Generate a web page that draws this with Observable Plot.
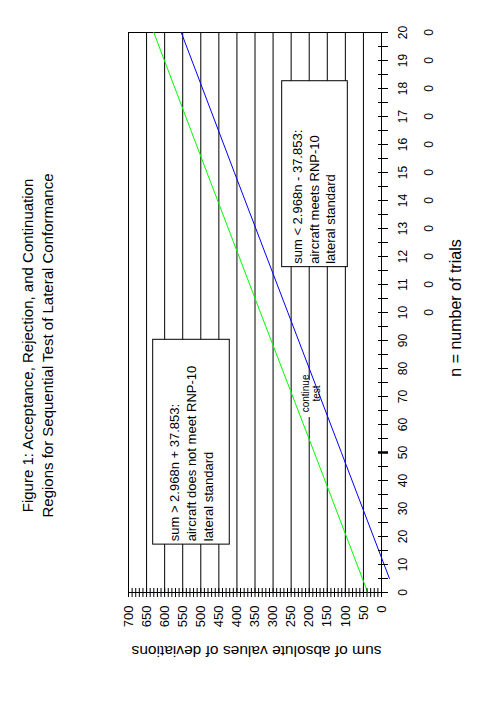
<!DOCTYPE html>
<html>
<head>
<meta charset="utf-8">
<script src="https://cdn.jsdelivr.net/npm/d3@7"></script>
<script src="https://cdn.jsdelivr.net/npm/@observablehq/plot@0.6"></script>
<style>
  body { margin: 0; background: #fff; }
</style>
</head>
<body>
<div id="chart"></div>
<script>
/* ticks */
const sumTicks = [0, 50, 100, 150, 200, 250, 300, 350, 400, 450, 500, 550, 600, 650, 700]
const nTicks = [0, 10, 20, 30, 40, 50, 60, 70, 80, 90, 100, 110, 120, 130, 140, 150, 160, 170, 180, 190, 200]
const sumMinorTicks = d3.range(0, 701, 10)
const nMinorTicks = d3.range(0, 201, 5)

/* boundary lines */
const rejectN = [0, 50, 100, 150, 200]
const rejectSum = [38, 186, 335, 483, 630]
const acceptN = [5, 50, 100, 150, 200]
const acceptSum = [-22, 111, 259, 407, 554]

/* texts */
const title = ['Figure 1: Acceptance, Rejection, and Continuation', 'Regions for Sequential Test of Lateral Conformance']
const rejectText = ['sum > 2.968n + 37.853:', 'aircraft does not meet RNP-10', 'lateral standard']
const acceptText = ['sum < 2.968n - 37.853:', 'aircraft meets RNP-10', 'lateral standard']
const continueText = ['continue', 'test']
const xLabel = 'n = number of trials'
const yLabel = 'sum of absolute values of deviations'

const reject = rejectN.map((n, i) => ({n, sum: rejectSum[i]}))
const accept = acceptN.map((n, i) => ({n, sum: acceptSum[i]}))

// labels of 100 and up are wrapped onto a second line, as in the original
const nFormat = d => d >= 100 ? String(d).slice(0, 2) + '\n' + String(d).slice(2) : String(d)

const chart = Plot.plot({
  width: 503,
  height: 721,
  marginLeft: 128,
  marginRight: 122,
  marginTop: 32,
  marginBottom: 129,
  style: {
    fontFamily: "'Liberation Sans', Arial, sans-serif",
    fontSize: '12px',
    background: 'white',
    color: 'black',
  },
  x: {domain: [0, 700], reverse: true, axis: null},
  y: {domain: [0, 200], axis: null},
  marks: [
    Plot.ruleX(sumTicks, {y1: 0, y2: 200, stroke: 'black'}),
    Plot.ruleY([0, 200], {x1: 0, x2: 700, stroke: 'black'}),

    // white patch behind "continue test"
    Plot.rect([0], {x1: 227, x2: 169, y1: 62.5, y2: 75.7, fill: 'white'}),

    Plot.line(reject, {x: 'sum', y: 'n', stroke: '#00ff00', strokeWidth: 1}),
    Plot.line(accept, {x: 'sum', y: 'n', stroke: '#0000ff', strokeWidth: 1}),

    Plot.rect([0], {x1: 631.7, x2: 419.8, y1: 17.1, y2: 90.25, fill: 'white', stroke: 'black'}),
    Plot.rect([0], {x1: 274.8, x2: 93.2, y1: 116.2, y2: 182.6, fill: 'white', stroke: 'black'}),
    Plot.text([rejectText.join('\n')], {
      text: d => d, x: 594, y: 18.3, rotate: -90,
      textAnchor: 'start', lineAnchor: 'top', lineHeight: 1.3, fontSize: 13,
    }),
    Plot.text([acceptText.join('\n')], {
      text: d => d, x: 254, y: 117.4, rotate: -90,
      textAnchor: 'start', lineAnchor: 'top', lineHeight: 1.3, fontSize: 13,
    }),
    Plot.text([continueText.join('\n')], {
      text: d => d, x: 221.4, y: 71.1, rotate: -90,
      textAnchor: 'middle', lineAnchor: 'top', lineHeight: 1.1, fontSize: 10,
    }),

    /* sum axis (bottom) */
    Plot.axisX(sumMinorTicks, {anchor: 'bottom', tickSize: 9, dy: -4, fill: 'none', label: null}),
    Plot.axisX(sumTicks, {
      anchor: 'bottom', tickSize: 0, tickPadding: 13, tickRotate: -90,
      textAnchor: 'end', lineAnchor: 'middle', fontSize: 13, label: null,
    }),

    /* n axis (right) */
    Plot.axisY(nMinorTicks, {anchor: 'right', tickSize: 10, dx: -4, fill: 'none', label: null}),
    Plot.axisY([50], {anchor: 'right', tickSize: 10, dx: -4, strokeWidth: 2.5, fill: 'none', label: null}),
    Plot.axisY(nTicks, {
      anchor: 'right', tickSize: 0, tickPadding: 7, tickRotate: -90,
      textAnchor: 'middle', lineAnchor: 'top', lineHeight: 2.15, fontSize: 12,
      tickFormat: nFormat, label: null,
    }),

    Plot.text([xLabel], {
      text: d => d, frameAnchor: 'right', dx: 74, dy: -4.5, rotate: -90,
      textAnchor: 'middle', lineAnchor: 'middle', fontSize: 16,
    }),
    Plot.text([yLabel], {
      text: d => d, frameAnchor: 'bottom', dx: 1.5, dy: 58, rotate: 180,
      textAnchor: 'middle', lineAnchor: 'middle', fontSize: 15.5,
    }),
    Plot.text([title.join('\n')], {
      text: d => d, frameAnchor: 'left', dx: -110, dy: 33, rotate: -90,
      textAnchor: 'middle', lineAnchor: 'top', lineHeight: 1.33, fontSize: 15,
    }),
  ],
})

d3.select('#chart').append(() => chart)
</script>
</body>
</html>
